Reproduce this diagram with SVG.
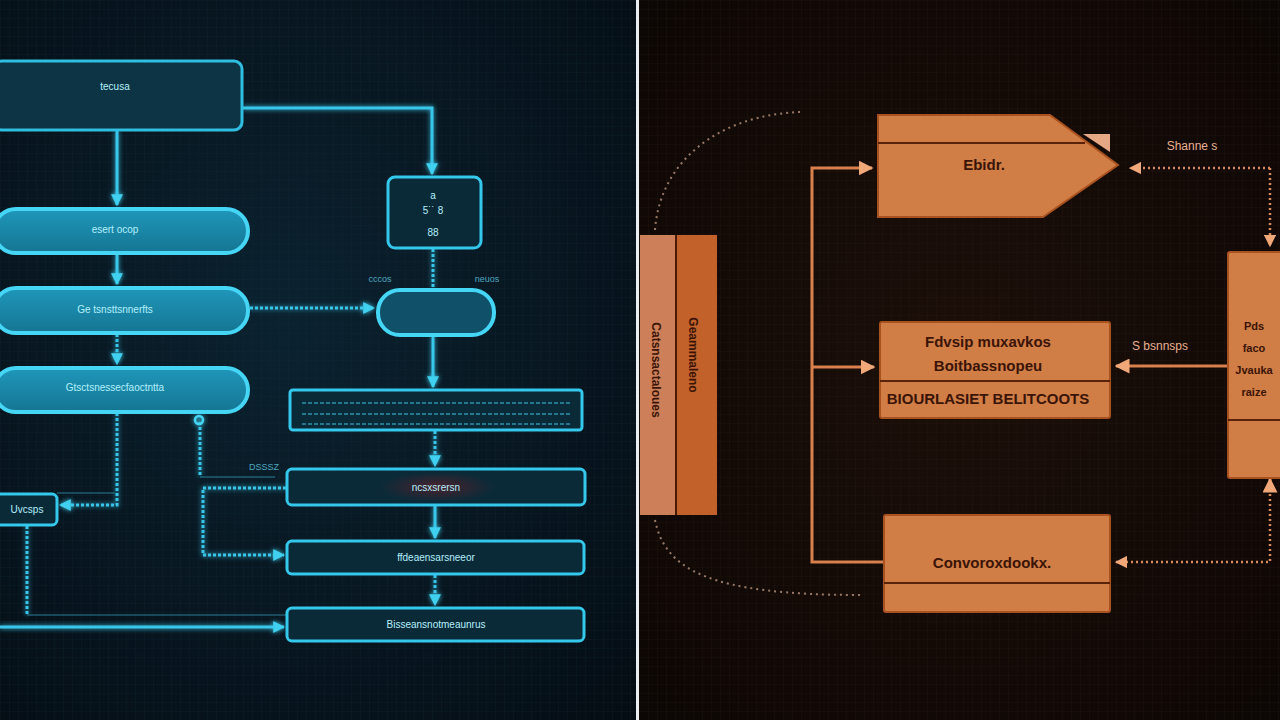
<svg xmlns="http://www.w3.org/2000/svg" width="1280" height="720" viewBox="0 0 1280 720">
<defs>
<pattern id="gridB" width="9" height="9" patternUnits="userSpaceOnUse"><path d="M9 0H0V9" fill="none" stroke="#12303e" stroke-width="0.6" opacity="0.6"/></pattern>
<pattern id="gridO" width="9" height="9" patternUnits="userSpaceOnUse"><path d="M9 0H0V9" fill="none" stroke="#2e1a10" stroke-width="0.6" opacity="0.7"/></pattern>
<radialGradient id="bgB" cx="0.45" cy="0.45" r="0.75"><stop offset="0" stop-color="#0b2230"/><stop offset="1" stop-color="#050d14"/></radialGradient>
<radialGradient id="bgO" cx="0.5" cy="0.5" r="0.75"><stop offset="0" stop-color="#1c0f09"/><stop offset="1" stop-color="#0b0604"/></radialGradient>
<linearGradient id="pill" x1="0" y1="0" x2="0" y2="1"><stop offset="0" stop-color="#1f97ba"/><stop offset="1" stop-color="#157593"/></linearGradient>
<radialGradient id="red" cx="0.5" cy="0.5" r="0.5"><stop offset="0" stop-color="#8a1a22" stop-opacity="0.5"/><stop offset="1" stop-color="#8a1a22" stop-opacity="0"/></radialGradient>
<filter id="glow" x="-20%" y="-40%" width="140%" height="180%"><feGaussianBlur stdDeviation="2.5" result="b"/><feMerge><feMergeNode in="b"/><feMergeNode in="SourceGraphic"/></feMerge></filter>
<marker id="aC" viewBox="0 0 10 10" refX="9" refY="5" markerWidth="4" markerHeight="4" orient="auto-start-reverse"><path d="M0 0L10 5L0 10z" fill="#3fd0f0"/></marker>
<marker id="aO" viewBox="0 0 10 10" refX="9" refY="5" markerWidth="5" markerHeight="5" orient="auto-start-reverse"><path d="M0 0L10 5L0 10z" fill="#f0a878"/></marker>
<style>
.bn{fill:#0d3444;stroke:#2fbde0;stroke-width:3}
.bp{fill:url(#pill);stroke:#45d6f6;stroke-width:4}
.bd{fill:#0b2a38;stroke:#34c8ec;stroke-width:3}
.bt{font-family:"Liberation Sans",Arial,sans-serif;font-size:10px;fill:#b4f0fc;text-anchor:middle}
.bl{font-family:"Liberation Sans",Arial,sans-serif;font-size:9px;fill:#4fa8c0;text-anchor:middle}
.cs{fill:none;stroke:#38c6ea;stroke-width:3}
.cd{fill:none;stroke:#38c6ea;stroke-width:3;stroke-dasharray:3 2}
.ct{fill:none;stroke:#2a7f98;stroke-width:1.2}
.on{fill:#d07d46;stroke:#a9521f;stroke-width:2}
.ot{font-family:"Liberation Sans",Arial,sans-serif;font-size:15px;fill:#3a1407;text-anchor:middle;font-weight:bold}
.ol{font-family:"Liberation Sans",Arial,sans-serif;font-size:12px;fill:#e8b090;text-anchor:middle}
.os{fill:none;stroke:#d9804c;stroke-width:3}
.od{fill:none;stroke:#d98a5a;stroke-width:2.5;stroke-dasharray:2 3}
.oa{fill:none;stroke:#9a7a66;stroke-width:2;stroke-dasharray:2 4}
</style>
</defs>
<rect x="0" y="0" width="637" height="720" fill="url(#bgB)"/>
<rect x="0" y="0" width="637" height="720" fill="url(#gridB)"/>
<rect x="639" y="0" width="641" height="720" fill="url(#bgO)"/>
<rect x="639" y="0" width="641" height="720" fill="url(#gridO)"/>
<rect x="636" y="0" width="3" height="720" fill="#e8eef2"/>

<g id="connectors">
<g filter="url(#glow)">
<path class="cs" d="M117 131V205" marker-end="url(#aC)"/>
<path class="cs" d="M243 108H432V174" marker-end="url(#aC)"/>
<path class="cs" d="M117 254V284" marker-end="url(#aC)"/>
<path class="cd" d="M117 334V364" marker-end="url(#aC)"/>
<path class="cd" d="M250 308H374" marker-end="url(#aC)"/>
<path class="cd" d="M433 249V289"/>
<path class="cs" d="M433 336V387" marker-end="url(#aC)"/>
<path class="cd" d="M435 431V466" marker-end="url(#aC)"/>
<path class="cs" d="M435 506V538" marker-end="url(#aC)"/>
<path class="cd" d="M435 575V605" marker-end="url(#aC)"/>
<path class="cd" d="M117 413V505H60" marker-end="url(#aC)"/>
<path class="cd" d="M200 422V477"/>
<circle cx="199" cy="420" r="4" fill="none" stroke="#45d6f6" stroke-width="2.5"/>
<path class="cd" d="M286 488H203V555H284" marker-end="url(#aC)"/>
<path class="cd" d="M27 526V615"/>
<path class="cs" d="M0 627H284" marker-end="url(#aC)"/>
</g>
<path class="ct" d="M200 477H275"/>
<path class="ct" d="M27 615H287"/>
<path class="ct" d="M57 493H115"/>

<path class="os" d="M884 562H812V168H872" marker-end="url(#aO)"/>
<path class="os" d="M812 367H874" marker-end="url(#aO)"/>
<path class="od" d="M1270 168H1130" marker-end="url(#aO)"/>
<path class="od" d="M1270 168V246" marker-end="url(#aO)"/>
<path class="os" d="M1228 366H1116" marker-end="url(#aO)"/>
<path class="od" d="M1270 484V562H1116" marker-end="url(#aO)"/>
<path class="os" d="M1270 486V479" marker-end="url(#aO)"/>
<path class="oa" d="M655 230C660 160 720 115 800 112"/>
<path class="oa" d="M655 520C665 570 710 595 860 595"/>
<text class="ol" x="1192" y="150">Shanne s</text>
<text class="ol" x="1160" y="350">S bsnnsps</text>
</g>

<g id="n-top"><rect class="bn" x="-6" y="61" width="248" height="69" rx="8"/><text class="bt" x="115" y="90">tecusa</text></g>
<g id="n-p1"><rect class="bp" x="-6" y="209" width="254" height="44" rx="22"/><text class="bt" x="115" y="233">esert ocop</text></g>
<g id="n-p2"><rect class="bp" x="-6" y="288" width="254" height="45" rx="22"/><text class="bt" x="115" y="313">Ge tsnsttsnnerfts</text></g>
<g id="n-p3"><rect class="bp" x="-6" y="368" width="254" height="44" rx="22"/><text class="bt" x="115" y="391">Gtsctsnessecfaoctntta</text></g>
<g id="n-small"><rect class="bd" x="-4" y="494" width="61" height="31" rx="5"/><text class="bt" x="27" y="513">Uvcsps</text></g>
<g id="n-icon"><rect class="bd" x="388" y="177" width="93" height="71" rx="7"/><text class="bt" x="433" y="199">a</text><text class="bt" x="433" y="214">5˙˙ 8</text><text class="bt" x="433" y="236">88</text></g>
<g id="n-p4"><rect class="bp" x="378" y="290" width="116" height="45" rx="22" style="fill:#105068"/><text class="bl" x="380" y="282">cccos</text><text class="bl" x="487" y="282">neuos</text></g>
<g id="n-r1"><rect class="bd" x="290" y="390" width="292" height="40" rx="3"/><path d="M302 403H570M302 414H570M302 424H570" stroke="#3cc6e8" stroke-width="1" stroke-dasharray="4 2"/></g>
<g id="n-r2"><rect class="bd" x="287" y="469" width="298" height="36" rx="5"/><rect x="380" y="472" width="115" height="30" fill="url(#red)"/><text class="bt" x="436" y="491">ncsxsrersn</text><text class="bl" x="264" y="470">DSSSZ</text></g>
<g id="n-r3"><rect class="bd" x="287" y="541" width="297" height="33" rx="5"/><text class="bt" x="436" y="561">ffdeaensarsneeor</text></g>
<g id="n-r4"><rect class="bd" x="287" y="608" width="297" height="33" rx="5"/><text class="bt" x="436" y="628">Bisseansnotmeaunrus</text></g>

<g id="o-a"><path class="on" d="M878 115H1050L1118 165L1043 217H878Z"/><path d="M878 143H1085" stroke="#5a2208" stroke-width="2"/><path d="M1083 134L1110 134L1110 152Z" fill="#e6a884"/><text class="ot" x="984" y="170">Ebidr.</text></g>
<g id="o-b"><rect x="640" y="235" width="36" height="280" fill="#cc7f58"/><rect x="676" y="235" width="41" height="280" fill="#c2612a"/><path d="M676 235V515" stroke="#4a1a08" stroke-width="2"/><text class="ot" transform="translate(652 370) rotate(90)" style="font-size:12px">Catsnsactaloues</text><text class="ot" transform="translate(689 355) rotate(90)" style="font-size:12px">Geammaleno</text></g>
<g id="o-c"><rect class="on" x="880" y="322" width="230" height="96" rx="2"/><path d="M880 381H1110" stroke="#5a2208" stroke-width="2"/><text class="ot" x="988" y="347">Fdvsip muxavkos</text><text class="ot" x="988" y="371">Boitbassnopeu</text><text class="ot" x="988" y="404">BIOURLASIET BELITCOOTS</text></g>
<g id="o-d"><rect class="on" x="884" y="515" width="226" height="97" rx="2"/><path d="M884 583H1110" stroke="#5a2208" stroke-width="2"/><text class="ot" x="992" y="568">Convoroxdookx.</text></g>
<g id="o-e"><rect class="on" x="1228" y="252" width="60" height="226" rx="2"/><path d="M1228 420H1280" stroke="#5a2208" stroke-width="2"/><g style="font-size:11px"><text class="ot" x="1254" y="330" style="font-size:11px">Pds</text><text class="ot" x="1254" y="352" style="font-size:11px">faco</text><text class="ot" x="1254" y="374" style="font-size:11px">Jvauka</text><text class="ot" x="1254" y="396" style="font-size:11px">raize</text></g></g>
</svg>
